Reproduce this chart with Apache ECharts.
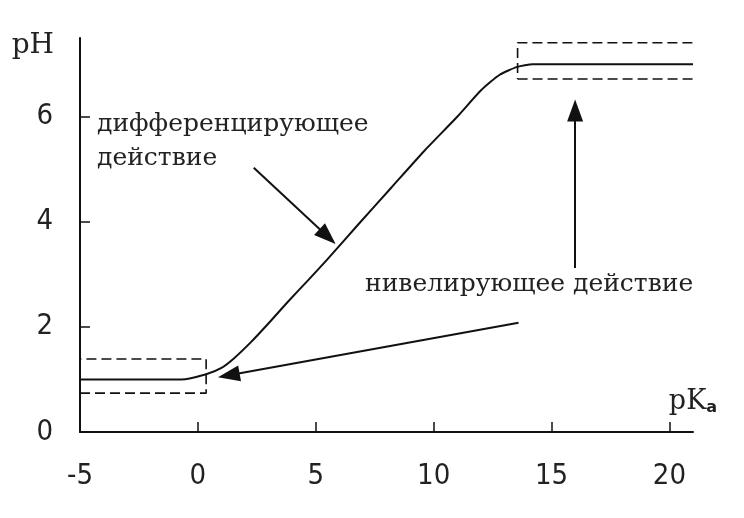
<!DOCTYPE html>
<html>
<head>
<meta charset="utf-8">
<script src="https://cdn.jsdelivr.net/npm/echarts@6/dist/echarts.min.js"></script>
<style>
  html, body { margin: 0; padding: 0; background: #fff; }
  #chart { width: 744px; height: 518px; }
</style>
</head>
<body>
<div id="chart"></div>
<script>
// titration-like curve pH vs pKa
const pKa = [-5, -0.7, 0.35, 1.0, 1.55, 2.25, 3.0, 3.8, 4.7, 5.5, 6.8, 8.2, 9.6, 11.0, 12.0, 12.8, 13.55, 14.2, 21];
const pH  = [1.0, 1.0, 1.1, 1.22, 1.41, 1.71, 2.07, 2.47, 2.9, 3.29, 3.95, 4.65, 5.35, 6.0, 6.5, 6.8, 6.95, 7.0, 7.0];

const xTicks = [-5, 0, 5, 10, 15, 20];
const yTicks = [0, 2, 4, 6];

// dashed boxes: [x0, y0, x1, y1]
const boxLow  = [-5, 0.74, 0.35, 1.39];
const boxHigh = [13.56, 6.72, 21.27, 7.41];

// arrows: from -> to
const arrowFrom = [[2.37, 5.03], [13.6, 2.08], [16.0, 3.12]];
const arrowTo   = [[5.5, 3.72], [1.31, 1.08], [16.0, 6.12]];

function boxPath(b) {
  return [[b[0], b[1]], [b[2], b[1]], [b[2], b[3]], [b[0], b[3]], [b[0], b[1]]];
}

const chart = echarts.init(document.getElementById('chart'));
const serif = 'DejaVu Serif';
const axisFont = "'Liberation Sans Narrow', 'DejaVu Sans Condensed', sans-serif";
const noteFont = '25px "DejaVu Serif"';

chart.setOption({
  backgroundColor: '#fff',
  animation: false,
  grid: { left: 80, right: 51, top: 38, bottom: 86 },
  xAxis: {
    type: 'value', min: -5, max: 21, interval: 5,
    splitLine: { show: false },
    axisLine: { lineStyle: { color: '#111', width: 2 } },
    axisTick: { inside: true, length: 10, customValues: xTicks, lineStyle: { color: '#111', width: 1.5 } },
    axisLabel: { customValues: xTicks, margin: 30, color: '#222', fontSize: 29, fontFamily: axisFont },
    name: '{p|pK}{s|a}',
    nameLocation: 'end',
    nameGap: 0,
    nameTextStyle: {
      align: 'center', verticalAlign: 'bottom', padding: [0, 0, 16, 0],
      rich: {
        p: { fontFamily: serif, fontSize: 27, color: '#222' },
        s: { fontFamily: 'DejaVu Sans', fontWeight: 'bold', fontSize: 16, color: '#222', verticalAlign: 'bottom', padding: [12, 0, 0, 0] }
      }
    }
  },
  yAxis: {
    type: 'value', min: 0, max: 7.5, interval: 2,
    splitLine: { show: false },
    axisLine: { onZero: false, lineStyle: { color: '#111', width: 2 } },
    axisTick: { inside: true, length: 10, customValues: yTicks, lineStyle: { color: '#111', width: 1.5 } },
    axisLabel: { customValues: yTicks, margin: 27, color: '#222', fontSize: 29, fontFamily: axisFont },
    name: 'pH',
    nameLocation: 'end',
    nameGap: -8,
    nameTextStyle: { fontFamily: serif, fontSize: 28, color: '#222', align: 'right', verticalAlign: 'middle', padding: [0, 26, 0, 0] }
  },
  series: [
    {
      type: 'line',
      data: pKa.map((x, i) => [x, pH[i]]),
      showSymbol: false,
      smooth: 0.2,
      lineStyle: { color: '#111', width: 2 }
    },
    {
      type: 'line', clip: false,
      data: boxPath(boxLow),
      showSymbol: false,
      lineStyle: { color: '#111', width: 1.6, type: [10, 5] }
    },
    {
      type: 'line', clip: false,
      data: boxPath(boxHigh),
      showSymbol: false,
      lineStyle: { color: '#111', width: 1.6, type: [10, 5] }
    },
    {
      type: 'line',
      data: [],
      markLine: {
        silent: true,
        symbol: ['none', 'triangle'],
        symbolSize: [16, 22],
        label: { show: false },
        lineStyle: { color: '#111', width: 2, type: 'solid' },
        data: arrowFrom.map((f, i) => [{ coord: f }, { coord: arrowTo[i] }])
      }
    }
  ],
  graphic: [
    { type: 'text', left: 97, top: 112, style: { text: 'дифференцирующее', font: noteFont, fill: '#222' } },
    { type: 'text', left: 97, top: 146, style: { text: 'действие', font: noteFont, fill: '#222' } },
    { type: 'text', left: 365, top: 272, style: { text: 'нивелирующее действие', font: noteFont, fill: '#222' } }
  ]
});
</script>
</body>
</html>
